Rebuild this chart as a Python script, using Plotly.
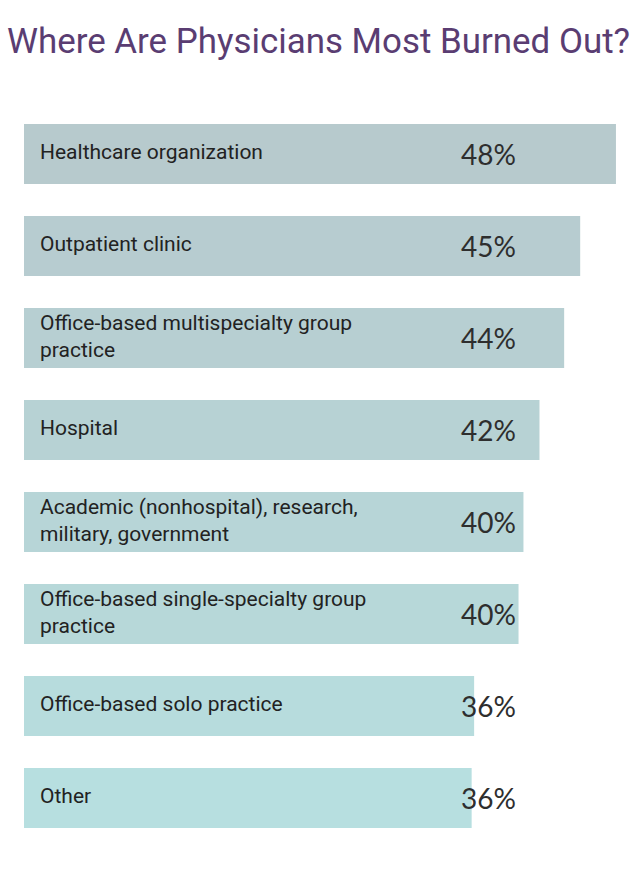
import plotly.graph_objects as go

categories = [
    "Healthcare organization",
    "Outpatient clinic",
    "Office-based multispecialty group<br>practice",
    "Hospital",
    "Academic (nonhospital), research,<br>military, government",
    "Office-based single-specialty group<br>practice",
    "Office-based solo practice",
    "Other",
]
values = [48.0, 45.1, 43.8, 41.8, 40.5, 40.1, 36.5, 36.3]
value_labels = ["48%", "45%", "44%", "42%", "40%", "40%", "36%", "36%"]
bar_colors = ["#b7cacd", "#b7ccd0", "#b7cfd2", "#b7d2d4", "#b7d5d7", "#b7d8d9", "#b7dcdd", "#b7dfe0"]

positions = list(range(len(categories)))

fig = go.Figure()
fig.add_trace(go.Bar(
    x=values, y=positions, orientation="h",
    marker=dict(color=bar_colors, line=dict(width=0)),
    width=0.652, hoverinfo="skip",
))

for p, cat, lab in zip(positions, categories, value_labels):
    fig.add_annotation(x=0, y=p, xref="x", yref="y", text=cat, showarrow=False,
                       xanchor="left", yanchor="middle", xshift=14, yshift=2, align="left",
                       font=dict(family="Roboto", size=21, color="#222222"))
    fig.add_annotation(x=35.3, y=p, xref="x", yref="y", text=lab, showarrow=False,
                       xanchor="left", yanchor="middle",
                       font=dict(family="Lato", size=28, color="#2e2e2e"))

fig.update_layout(
    width=640, height=888,
    margin=dict(l=24, r=0, t=108, b=44),
    paper_bgcolor="white", plot_bgcolor="white",
    showlegend=False,
    title=dict(text="Where Are Physicians Most Burned Out?", x=306 / 640, xanchor="center",
               y=1 - 41 / 888, yanchor="middle", xref="paper",
               font=dict(family="Roboto", size=34.9, color="#5a3d72")),
    xaxis=dict(range=[0, 49.95], visible=False, fixedrange=True),
    yaxis=dict(range=[7.5, -0.5], visible=False, fixedrange=True),
)

fig.write_html("out.html")
